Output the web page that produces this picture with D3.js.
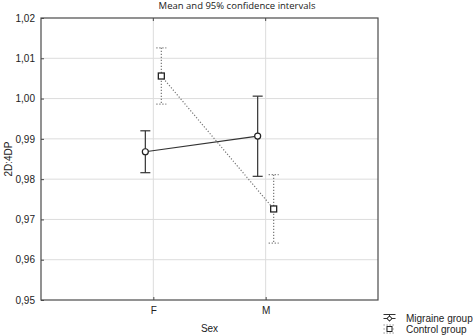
<!DOCTYPE html>
<html>
<head>
<meta charset="utf-8">
<script src="https://cdn.jsdelivr.net/npm/d3@7"></script>
<style>
  html, body { margin: 0; padding: 0; background: #fff; }
  svg { display: block; }
</style>
</head>
<body>
<svg id="chart" width="474" height="335"></svg>
<script>
// Categories and group summaries (mean with 95% CI bounds)
const categories = ["F", "M"];
const seriesNames = ["Migraine group", "Control group"];
const migraineMean = [0.9868, 0.9907];
const migraineLow = [0.9816, 0.9807];
const migraineHigh = [0.9920, 1.0006];
const controlMean = [1.0056, 0.9726];
const controlLow = [0.9986, 0.9641];
const controlHigh = [1.0126, 0.9811];
const yTicks = [0.95, 0.96, 0.97, 0.98, 0.99, 1.00, 1.01, 1.02];

const svg = d3.select("#chart");
const plotLeft = 41, plotRight = 378, plotTop = 18, plotBottom = 300;

const x = d3.scalePoint().domain(categories).range([plotLeft, plotRight]).padding(1);
const y = d3.scaleLinear().domain([0.95, 1.02]).range([plotBottom, plotTop]);

const locale = d3.formatLocale({ decimal: ",", thousands: ".", grouping: [3], currency: ["", ""] });
const fmt = locale.format(".2f");

const gridColor = "#dcdcdc";
const axisColor = "#4a4a4a";
const labelFont = "'Liberation Sans', Arial, sans-serif";

// Grid lines
svg.append("g").selectAll("line").data(yTicks.slice(1, -1)).join("line")
  .attr("x1", plotLeft).attr("x2", plotRight)
  .attr("y1", d => y(d)).attr("y2", d => y(d))
  .attr("stroke", gridColor).attr("stroke-width", 1);
svg.append("g").selectAll("line").data(categories).join("line")
  .attr("x1", d => x(d)).attr("x2", d => x(d))
  .attr("y1", plotTop).attr("y2", plotBottom)
  .attr("stroke", gridColor).attr("stroke-width", 1);

// Y axis with inward ticks
const yAxis = d3.axisLeft(y).tickValues(yTicks).tickFormat(fmt).tickSizeInner(-3).tickSizeOuter(0).tickPadding(6);
const gy = svg.append("g").attr("transform", `translate(${plotLeft},0)`).call(yAxis);
gy.select(".domain").remove();
gy.selectAll("line").attr("stroke", axisColor);
gy.selectAll("text").attr("font-family", labelFont).attr("font-size", 10).attr("fill", "#222");

// X axis with inward ticks
const xAxis = d3.axisBottom(x).tickSizeInner(-3).tickSizeOuter(0).tickPadding(7);
const gx = svg.append("g").attr("transform", `translate(0,${plotBottom})`).call(xAxis);
gx.select(".domain").remove();
gx.selectAll("line").attr("stroke", axisColor);
gx.selectAll("text").attr("font-family", labelFont).attr("font-size", 10).attr("fill", "#222");

// Top ticks
svg.append("g").selectAll("line").data(categories).join("line")
  .attr("x1", d => x(d)).attr("x2", d => x(d))
  .attr("y1", plotTop).attr("y2", plotTop + 3)
  .attr("stroke", axisColor);

// Frame
svg.append("rect").attr("x", plotLeft).attr("y", plotTop)
  .attr("width", plotRight - plotLeft).attr("height", plotBottom - plotTop)
  .attr("fill", "none").attr("stroke", axisColor).attr("stroke-width", 1.2);

// Series drawing
const series = [
  { name: seriesNames[0], mean: migraineMean, low: migraineLow, high: migraineHigh, dx: -8,
    color: "#333", dash: null, width: 1.2, marker: "circle" },
  { name: seriesNames[1], mean: controlMean, low: controlLow, high: controlHigh, dx: 8,
    color: "#777", dash: "1.2,1.8", width: 1.2, marker: "square" }
];

const cap = 5;
series.forEach(s => {
  const g = svg.append("g");
  const pts = categories.map((c, i) => ({ cx: x(c) + s.dx, m: s.mean[i], lo: s.low[i], hi: s.high[i] }));
  g.append("path")
    .attr("d", d3.line().x(p => p.cx).y(p => y(p.m))(pts))
    .attr("fill", "none").attr("stroke", s.color).attr("stroke-width", s.width)
    .attr("stroke-dasharray", s.dash);
  pts.forEach(p => {
    g.append("line").attr("x1", p.cx).attr("x2", p.cx).attr("y1", y(p.hi)).attr("y2", y(p.lo))
      .attr("stroke", s.color).attr("stroke-width", s.width).attr("stroke-dasharray", s.dash);
    [p.hi, p.lo].forEach(v => {
      g.append("line").attr("x1", p.cx - cap).attr("x2", p.cx + cap).attr("y1", y(v)).attr("y2", y(v))
        .attr("stroke", s.color).attr("stroke-width", s.width).attr("stroke-dasharray", s.dash);
    });
    if (s.marker === "circle") {
      g.append("circle").attr("cx", p.cx).attr("cy", y(p.m)).attr("r", 3)
        .attr("fill", "#fff").attr("stroke", "#222").attr("stroke-width", 1.2);
    } else {
      g.append("rect").attr("x", p.cx - 3).attr("y", y(p.m) - 3).attr("width", 6).attr("height", 6)
        .attr("fill", "#fff").attr("stroke", "#222").attr("stroke-width", 1.3);
    }
  });
});

// Title
svg.append("text").attr("x", 237).attr("y", 9).attr("text-anchor", "middle")
  .attr("font-family", "'Open Sans', sans-serif").attr("font-size", 9.5).attr("fill", "#1a1a1a")
  .text("Mean and 95% confidence intervals");

// Axis titles
svg.append("text").attr("transform", `translate(12,${(plotTop + plotBottom) / 2}) rotate(-90)`)
  .attr("text-anchor", "middle").attr("font-family", labelFont).attr("font-size", 10).attr("fill", "#222")
  .text("2D:4DP");
svg.append("text").attr("x", (plotLeft + plotRight) / 2).attr("y", 332).attr("text-anchor", "middle")
  .attr("font-family", labelFont).attr("font-size", 10).attr("fill", "#222")
  .text("Sex");

// Legend
const lg = svg.append("g");
series.forEach((s, i) => {
  const cy = 318.5 + i * 10.5;
  const cx = 389.5;
  const row = lg.append("g");
  if (s.marker === "circle") {
    row.append("line").attr("x1", cx - 6).attr("x2", cx + 6).attr("y1", cy - 4).attr("y2", cy - 4).attr("stroke", s.color);
    row.append("line").attr("x1", cx).attr("x2", cx).attr("y1", cy - 4).attr("y2", cy + 3).attr("stroke", s.color);
    row.append("line").attr("x1", cx - 6).attr("x2", cx + 6).attr("y1", cy).attr("y2", cy).attr("stroke", s.color);
    row.append("circle").attr("cx", cx).attr("cy", cy).attr("r", 2).attr("fill", "#fff").attr("stroke", "#222");
  } else {
    [-4, 4].forEach(o => row.append("line").attr("x1", cx - 6).attr("x2", cx + 6).attr("y1", cy + o).attr("y2", cy + o)
      .attr("stroke", s.color).attr("stroke-dasharray", s.dash));
    row.append("line").attr("x1", cx - 6).attr("x2", cx + 6).attr("y1", cy).attr("y2", cy)
      .attr("stroke", s.color).attr("stroke-dasharray", s.dash);
    row.append("rect").attr("x", cx - 2.5).attr("y", cy - 2.5).attr("width", 5).attr("height", 5)
      .attr("fill", "#fff").attr("stroke", "#222");
  }
  row.append("text").attr("x", 406).attr("y", cy + 3.5)
    .attr("font-family", labelFont).attr("font-size", 10).attr("fill", "#222")
    .text(s.name);
});
</script>
</body>
</html>
